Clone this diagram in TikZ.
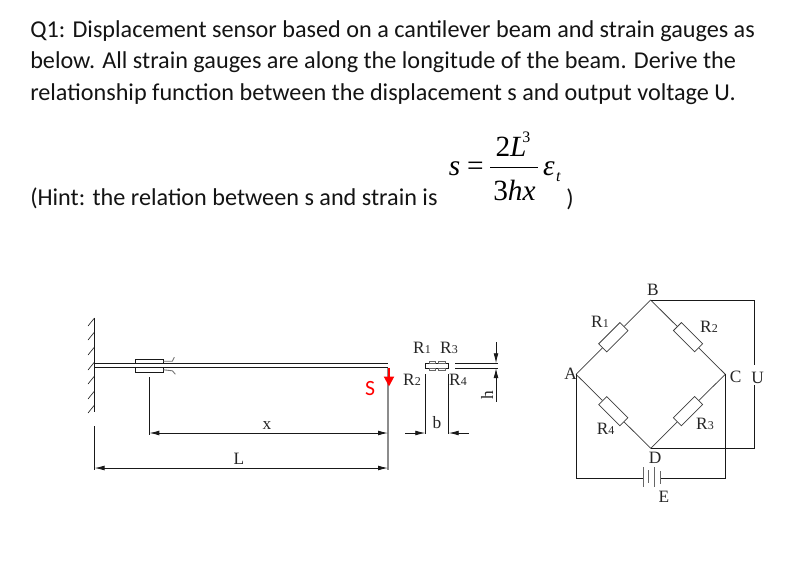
\documentclass[tikz,border=0pt]{standalone}
\usepackage{amsmath}
\usepackage{fontspec}
\setmainfont{Liberation Serif}
\newfontfamily\bodyfont{Carlito}
\usetikzlibrary{arrows.meta}
\newcommand{\rname}[1]{R{\fontsize{9}{10}\selectfont #1}}

\begin{document}
\begin{tikzpicture}[x=0.75pt,y=-0.75pt]
\tikzstyle{txt} = [anchor=base west, inner sep=0, text=black!92, font=\bodyfont\fontsize{18.15}{20}\selectfont]
\tikzstyle{frm} = [anchor=base, inner sep=0, font=\fontsize{22}{24}\selectfont]
\tikzstyle{lbl} = [inner sep=0, text=black!85, font=\fontsize{13}{15}\selectfont]
\tikzstyle{ln} = [draw=black!90, line width=0.65pt]
\tikzstyle{dim} = [ln, {Latex[length=7.5pt,width=3.6pt]}-{Latex[length=7.5pt,width=3.6pt]}]
\tikzstyle{res} = [draw=black!75, line width=0.55pt, fill=white, rectangle, rotate=45, minimum width=22.5pt, minimum height=8.5pt, inner sep=0]
\tikzstyle{gauge} = [draw=black!90, line width=0.55pt, fill=white, rectangle, inner sep=0]
\useasboundingbox (0,0) rectangle (799,567);
\fill[white] (0,0) rectangle (799,567);

% Testo
\node[txt] (line1) at (30,38) {Q1: Displacement sensor based on a cantilever beam and strain gauges as};
\node[txt] (line2) at (30,69) {below. All strain gauges are along the longitude of the beam. Derive the};
\node[txt] (line3) at (30,100) {relationship function between the displacement s and output voltage U.};
\node[txt] (hint) at (30,205) {(Hint: the relation between s and strain is};
\node[txt] (close) at (566,206) {)};

% Formula
\node[frm] (fs) at (454.5,175) {\textit{s}};
\node[frm] (feq) at (475.5,175) {=};
\node[frm] (fnum) at (513,156) {2\textit{L}\kern-3pt\raisebox{10pt}{\fontsize{12}{12}\selectfont 3}};
\node[frm] (fden) at (514.5,200) {3\textit{hx}};
\draw[black, line width=0.8pt] (490,167.7) -- (538,167.7);
\node[frm] (feps) at (549,175) {\textit{ε}};
\node[frm, font=\fontsize{12}{12}\selectfont] (ft) at (558.5,181) {\textit{t}};

% Parete
\draw[ln] (94.5,318) -- (94.5,412);
\foreach \y in {318,332,347,362,376,391,405} {
  \draw[ln, line width=0.45pt] (94.5,\y) -- ++(-6.5,8);
}

% Trave
\coordinate (rootT) at (94.5,363.3);
\coordinate (rootB) at (94.5,367.7);
\coordinate (tipT) at (388,363.3);
\coordinate (tipB) at (388,367.7);
\draw[ln, line width=0.8pt] (rootT) -- (tipT);
\draw[ln] (rootB) -- (tipB);
\node[gauge, minimum width=21pt, minimum height=3.2pt] (gaugeT) at (149,361.2) {};
\node[gauge, minimum width=21pt, minimum height=3.2pt] (gaugeB) at (149,369.8) {};
\draw[ln, draw=black!55] (gaugeT.east) -- ++(9,0) -- ++(2,-4);
\draw[ln, draw=black!55] (gaugeB.east) -- ++(9,1) -- ++(3,3.5);

% Quote x e L
\coordinate (xL) at (149.3,433);
\coordinate (xR) at (388,433);
\coordinate (LL) at (94.5,468);
\coordinate (LR) at (388,468);
\draw[ln] (149.3,377) -- (149.3,435);
\draw[ln] (94.5,426) -- (94.5,470);
\draw[ln, draw=black!45, line width=0.9pt] (tipB) -- (388,470);
\draw[dim] (xL) -- (xR);
\draw[dim] (LL) -- (LR);
\node[lbl] (x) at (267,426) {x};
\node[lbl] (L) at (239,459) {L};

% Spostamento
\draw[red, line width=1.5pt, -{Triangle[length=7.5pt,width=7.5pt]}] (389,367.5) -- (389,386.5);
\node[inner sep=0, text=red, font=\bodyfont\fontsize{16.3}{18}\selectfont] (S) at (370,389) {S};

% Sezione
\node[gauge, minimum width=17.5pt, minimum height=3.8pt, line width=0.65pt] (sec) at (437,365.8) {};
\foreach \xc in {432.5,442} {
  \node[gauge, minimum width=4.8pt, minimum height=1.8pt, draw=black!60] at (\xc,362.2) {};
  \node[gauge, minimum width=4.8pt, minimum height=1.8pt, draw=black!60] at (\xc,369.4) {};
}
\draw[ln] (425.3,374) -- (425.3,434);
\draw[ln] (448.7,374) -- (448.7,434);
\coordinate (bL) at (425.3,433);
\coordinate (bR) at (448.7,433);
\draw[ln, {Latex[length=7.5pt,width=3.6pt]}-] (bL) -- (405,433);
\draw[ln, {Latex[length=7.5pt,width=3.6pt]}-] (bR) -- (469,433);
\draw[ln, line width=0.8pt] (455,363.3) -- (498,363.3);
\draw[ln] (455,368) -- (498,368);
\coordinate (hT) at (496,363.3);
\coordinate (hB) at (496,368);
\draw[ln, {Latex[length=7.5pt,width=3.6pt]}-] (hT) -- (496,342);
\draw[ln, {Latex[length=7.5pt,width=3.6pt]}-] (hB) -- (496,402);
\node[lbl] (r1a) at (422,348) {\rname{1}};
\node[lbl] (r3a) at (449,348) {\rname{3}};
\node[lbl] (r2a) at (412,379.5) {\rname{2}};
\node[lbl] (r4a) at (458,379.5) {\rname{4}};
\node[lbl] (b) at (437,423) {b};
\node[lbl, rotate=90] (h) at (487,395) {h};

% Ponte
\coordinate (A) at (576,374.3);
\coordinate (B) at (650.7,300);
\coordinate (C) at (725.3,374.3);
\coordinate (D) at (650.7,448.3);
\coordinate (Utop) at (754.3,365);
\coordinate (Ubot) at (754.3,385);
\node[res] (R1) at (613.3,337.2) {};
\node[res, rotate=90] (R2) at (688,337.2) {};
\node[res, rotate=90] (R4) at (613.3,411.2) {};
\node[res] (R3) at (688,411.2) {};
\foreach \a/\r/\b in {A/R1/B, B/R2/C, A/R4/D, D/R3/C} {
  \draw[ln, draw=black!75, line width=0.55pt] (\a) -- (\r);
  \draw[ln, draw=black!75, line width=0.55pt] (\r) -- (\b);
}
\draw[ln] (B) -| (Utop);
\draw[ln] (D) -| (Ubot);

% Batteria
\coordinate (battL) at (643,478);
\coordinate (battR) at (660,478);
\draw[ln] (A) |- (battL);
\draw[ln] (C) |- (battR);
\draw[ln, draw=black!60, line width=0.75pt] (643,467) -- (643,487);
\draw[ln, draw=black!60, line width=0.75pt] (648.5,470) -- (648.5,483);
\draw[ln, draw=black!60, line width=0.75pt] (654.3,467) -- (654.3,487);
\draw[ln, draw=black!60, line width=0.75pt] (660,471) -- (660,484);

\node[lbl] (nA) at (570.7,374) {A};
\node[lbl] (nB) at (653,290) {B};
\node[lbl] (nC) at (735.7,376.5) {C};
\node[lbl] (nD) at (655,457.7) {D};
\node[lbl] (nE) at (664,496.7) {E};
\node[lbl] (nU) at (757.7,378) {U};
\node[lbl] (n1) at (600,321.7) {\rname{1}};
\node[lbl] (n2) at (709,326.7) {\rname{2}};
\node[lbl] (n3) at (705,424) {\rname{3}};
\node[lbl] (n4) at (605.7,429) {\rname{4}};
\end{tikzpicture}
\end{document}
